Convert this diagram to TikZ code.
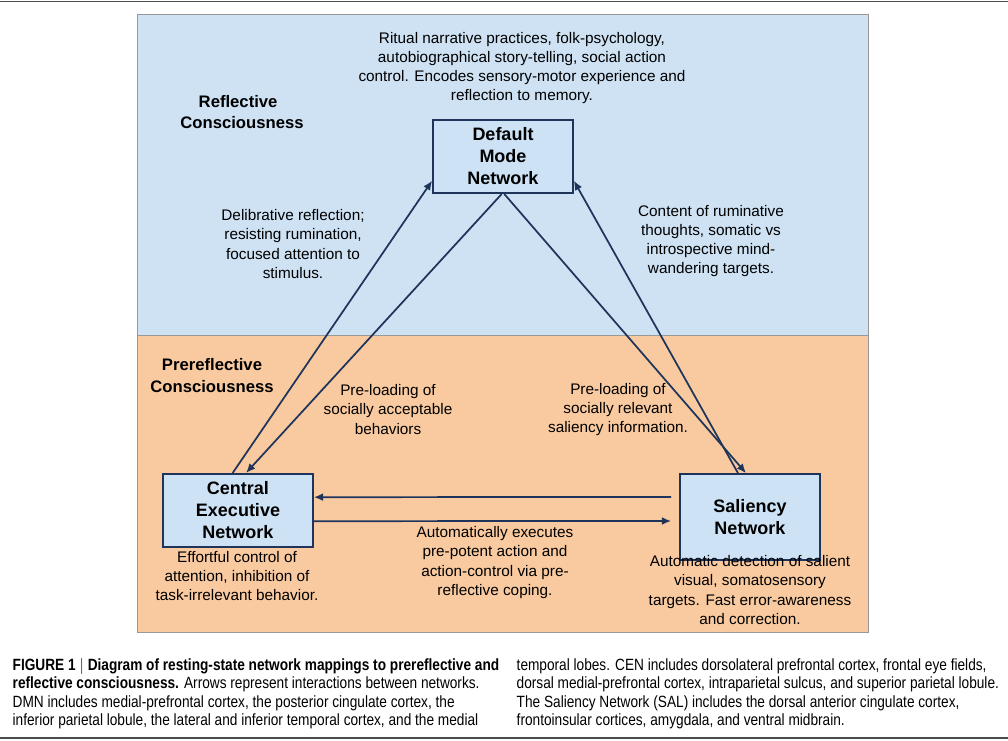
\documentclass[tikz,border=0pt]{standalone}
\usepackage{fontspec}
\setmainfont{Liberation Sans}
\newfontfamily\capfont{Liberation Sans}[FakeStretch=0.84]
\usetikzlibrary{arrows.meta}
\definecolor{topbg}{RGB}{206,226,244}
\definecolor{botbg}{RGB}{249,202,160}
\definecolor{boxbg}{RGB}{206,226,246}
\definecolor{navy}{RGB}{30,52,90}
\begin{document}
\begin{tikzpicture}[x=0.75pt,y=-0.75pt,
  txt/.style={align=center,font=\fontsize{11.5}{14.3}\selectfont},
  hd/.style={align=center,font=\fontsize{12.5}{16}\selectfont\bfseries},
  net/.style={draw=navy,line width=1.3pt,fill=boxbg,align=center,
    font=\fontsize{13.5}{16.5}\selectfont\bfseries,inner sep=0pt},
  link/.style={navy,line width=1.3pt,-{Latex[length=7pt,width=6pt]}},
  captxt/.style={anchor=north west,align=left,font=\capfont\fontsize{12.2}{13.7}\selectfont}]
\useasboundingbox (0,0) rectangle (1008,740);
\fill[white] (0,0) rectangle (1008,740);
\draw[black!70,line width=1pt] (0,1.5) -- (1008,1.5);
\draw[black!70,line width=1pt] (0,738) -- (1008,738);
% panels
\filldraw[fill=topbg,draw=black!40] (137,14) rectangle (868,335);
\filldraw[fill=botbg,draw=black!40] (137,335) rectangle (868,632);
% networks
\node[net,minimum width=105pt,minimum height=55pt] (dmn) at (503,156.5) {Default\\Mode\\Network};
\node[net,minimum width=112.5pt,minimum height=55pt] (cen) at (238,510.5) {Central\\Executive\\Network};
\node[net,minimum width=105pt,minimum height=64.5pt] (sal) at (750,517) {Saliency\\Network};
% connectors
\draw[link] ([xshift=-4pt]cen.north) -- ([yshift=10pt]dmn.south west);
\draw[link] ([xshift=-1pt]dmn.south) -- ([xshift=6pt]cen.north);
\draw[link] ([xshift=1pt]dmn.south) -- ([xshift=-3pt]sal.north);
\draw[link] ([xshift=-9pt]sal.north) -- ([yshift=10pt]dmn.south east);
\draw[link] ([xshift=-6pt,yshift=15pt]sal.west) -- ([yshift=10pt]cen.east);
\draw[link] ([yshift=-8pt]cen.east) -- ([xshift=-6pt,yshift=-3pt]sal.west);
% labels
\node[txt] (t1) at (522,68) {Ritual narrative practices, folk-psychology,\\autobiographical story-telling, social action\\control. Encodes sensory-motor experience and\\reflection to memory.};
\node[hd,align=left] (rc) at (242,112) {\hspace*{1.1em}Reflective\\Consciousness};
\node[txt] (t2) at (293,244) {Delibrative reflection;\\resisting rumination,\\focused attention to\\stimulus.};
\node[txt] (t3) at (711,241) {Content of ruminative\\thoughts, somatic vs\\introspective mind-\\wandering targets.};
\node[hd] (pc) at (212,375.5) {Prereflective\\Consciousness};
\node[txt] (t4) at (388,409.5) {Pre-loading of\\socially acceptable\\behaviors};
\node[txt] (t5) at (618,409.5) {Pre-loading of\\socially relevant\\saliency information.};
\node[txt] (t6) at (237,576) {Effortful control of\\attention, inhibition of\\task-irrelevant behavior.};
\node[txt] (t7) at (495,562.5) {Automatically executes\\pre-potent action and\\action-control via pre-\\reflective coping.};
\node[txt] (t8) at (750,590) {Automatic detection of salient\\visual, somatosensory\\targets. Fast error-awareness\\and correction.};
% caption
\node[captxt] (c1) at (8,654) {{\bfseries FIGURE 1 $|$ Diagram of resting-state network mappings to prereflective and}\\{\bfseries reflective consciousness.} Arrows represent interactions between networks.\\DMN includes medial-prefrontal cortex, the posterior cingulate cortex, the\\inferior parietal lobule, the lateral and inferior temporal cortex, and the medial};
\node[captxt] (c2) at (512,654) {temporal lobes. CEN includes dorsolateral prefrontal cortex, frontal eye fields,\\dorsal medial-prefrontal cortex, intraparietal sulcus, and superior parietal lobule.\\The Saliency Network (SAL) includes the dorsal anterior cingulate cortex,\\frontoinsular cortices, amygdala, and ventral midbrain.};
\end{tikzpicture}
\end{document}
